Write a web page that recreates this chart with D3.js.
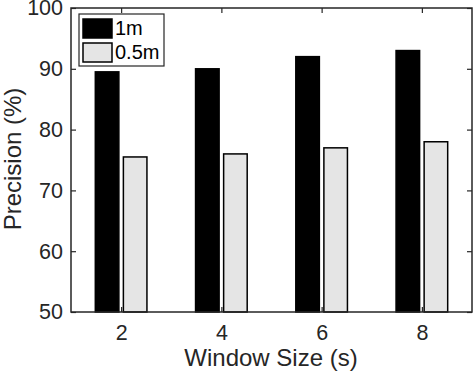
<!DOCTYPE html>
<html>
<head>
<meta charset="utf-8">
<script src="https://cdn.jsdelivr.net/npm/d3@7"></script>
<style>
  body { margin: 0; background: #fff; }
  svg { display: block; font-family: "Liberation Sans", Arial, Helvetica, sans-serif; }
</style>
</head>
<body>
<script>
// data
const windowSizes = [2, 4, 6, 8];
const seriesNames = ['1m', '0.5m'];
const precision1m = [89.5, 90, 92, 93];
const precision05m = [75.5, 76, 77, 78];
const yTicks = [50, 60, 70, 80, 90, 100];

const width = 474, height = 373;
const plot = { left: 71, right: 472, top: 8, bottom: 312 };
const ink = '#262626';

let svg = d3.select('body').append('svg')
    .attr('width', width)
    .attr('height', height);

let x = d3.scaleLinear().domain([1, 9]).range([plot.left, plot.right]);
let y = d3.scaleLinear().domain([50, 100]).range([plot.bottom, plot.top]);

// bars (grouped, MATLAB style)
const offset = 0.28, barW = 0.47;
const series = [
    { name: seriesNames[0], values: precision1m, fill: '#000000', dx: -offset },
    { name: seriesNames[1], values: precision05m, fill: '#e5e5e5', dx: offset }
];

series.forEach(s => {
    svg.append('g').selectAll('rect')
        .data(windowSizes.map((w, i) => ({ w: w, v: s.values[i] })))
        .enter().append('rect')
        .attr('x', d => x(d.w + s.dx - barW / 2))
        .attr('width', x(barW) - x(0))
        .attr('y', d => y(d.v))
        .attr('height', d => y(50) - y(d.v))
        .attr('fill', s.fill)
        .attr('stroke', '#000')
        .attr('stroke-width', 1.5);
});

// axes: ticks inward, box on
const tickLen = 5;
let xAxis = svg.append('g').attr('transform', `translate(0, ${plot.bottom})`)
    .call(d3.axisBottom(x).tickValues(windowSizes).tickSizeInner(-tickLen).tickSizeOuter(0).tickPadding(13));
let xTop = svg.append('g').attr('transform', `translate(0, ${plot.top})`)
    .call(d3.axisTop(x).tickValues(windowSizes).tickSizeInner(-tickLen).tickSizeOuter(0).tickFormat(''));
let yAxis = svg.append('g').attr('transform', `translate(${plot.left}, 0)`)
    .call(d3.axisLeft(y).tickValues(yTicks).tickSizeInner(-tickLen).tickSizeOuter(0).tickPadding(8));
let yRight = svg.append('g').attr('transform', `translate(${plot.right}, 0)`)
    .call(d3.axisRight(y).tickValues(yTicks).tickSizeInner(-tickLen).tickSizeOuter(0).tickFormat(''));

[xAxis, xTop, yAxis, yRight].forEach(a => {
    a.select('.domain').remove();
    a.selectAll('line').attr('stroke', ink).attr('stroke-width', 1.2);
    a.selectAll('text').attr('fill', ink).style('font-size', '21.5px');
});

svg.append('rect')
    .attr('x', plot.left)
    .attr('y', plot.top)
    .attr('width', plot.right - plot.left)
    .attr('height', plot.bottom - plot.top)
    .attr('fill', 'none')
    .attr('stroke', ink)
    .attr('stroke-width', 1.5);

// axis labels
svg.append('text')
    .attr('text-anchor', 'middle')
    .attr('transform', `translate(21, 159) rotate(-90)`)
    .attr('fill', ink)
    .style('font-size', '24px')
    .text('Precision (%)');

svg.append('text')
    .attr('text-anchor', 'middle')
    .attr('x', 271)
    .attr('y', 366)
    .attr('fill', ink)
    .style('font-size', '24px')
    .text('Window Size (s)');

// legend
let legend = svg.append('g').attr('transform', 'translate(79, 14)');
legend.append('rect')
    .attr('width', 85)
    .attr('height', 52)
    .attr('fill', '#fff')
    .attr('stroke', ink)
    .attr('stroke-width', 1.2);

series.forEach((s, i) => {
    let row = legend.append('g').attr('transform', `translate(4, ${5 + i * 24})`);
    row.append('rect')
        .attr('width', 29)
        .attr('height', 19)
        .attr('fill', s.fill)
        .attr('stroke', '#000')
        .attr('stroke-width', 1.5);
    row.append('text')
        .attr('x', 32)
        .attr('y', 16)
        .attr('fill', '#000')
        .style('font-size', '20px')
        .text(s.name);
});
</script>
</body>
</html>
